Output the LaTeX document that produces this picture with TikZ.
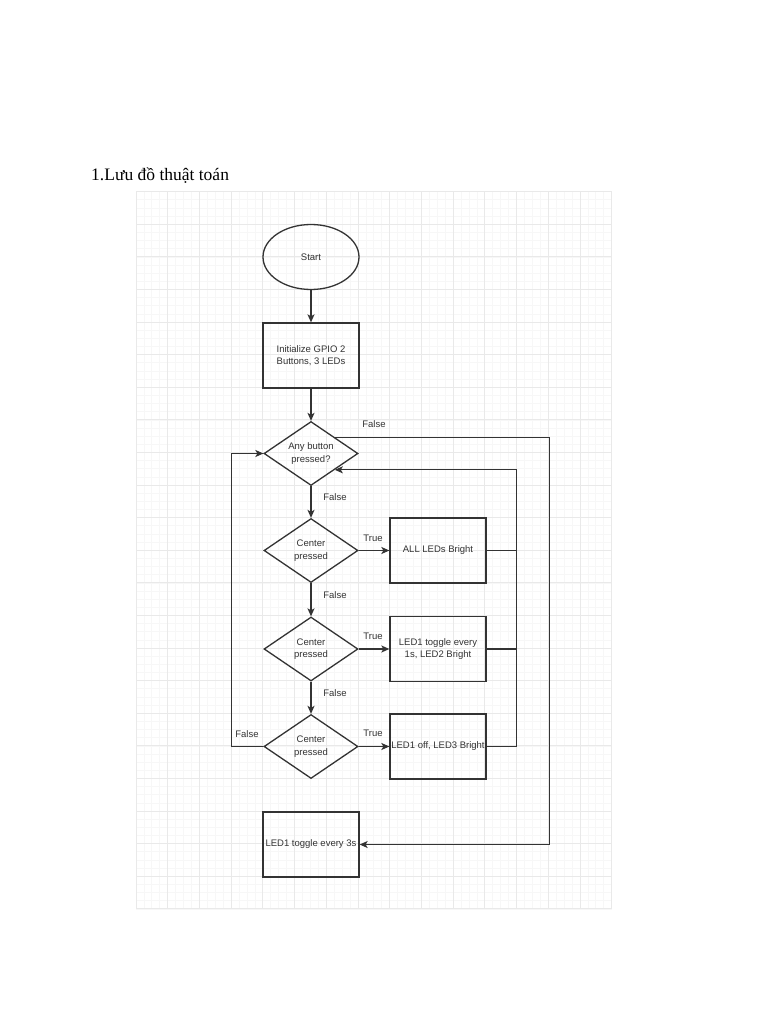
\documentclass[tikz,border=0pt]{standalone}
\usepackage{fontspec}
\setmainfont{Liberation Serif}
\newfontfamily\diafont{Liberation Sans}
\usetikzlibrary{shapes,arrows.meta,positioning,calc}
\definecolor{gridminor}{gray}{0.97}
\definecolor{gridmajor}{gray}{0.915}
\definecolor{linegray}{gray}{0.2}

\begin{document}
\begin{tikzpicture}[x=1pt,y=-1pt,
        every node/.style={font=\diafont\fontsize{9.5}{12.5}\selectfont,text=linegray},
        startstop/.style={ellipse,draw=linegray,line width=1.3pt,minimum width=96pt,minimum height=65pt,inner sep=0pt},
        process/.style={rectangle,draw=linegray,line width=1.3pt,minimum width=96pt,minimum height=65pt,inner sep=0pt,align=center},
        decision/.style={diamond,draw=linegray,line width=1.3pt,minimum width=94pt,minimum height=64pt,inner sep=0pt,aspect=1.5,align=center},
        arr/.style={draw=linegray,line width=1.3pt,-{Stealth[length=8pt,width=7pt,inset=2pt]}},
        link/.style={draw=linegray,line width=1.3pt},
        lbl/.style={inner sep=1pt}]
    \fill[white] (0,0) rectangle (768,1024);
    \useasboundingbox (0,0) rectangle (768,1024);
    % heading
    \node[font=\rmfamily\fontsize{17.5}{21}\selectfont,text=black,anchor=base west,inner sep=0pt] (title) at (91,181) {1.Lưu đồ thuật toán};
    % drawing grid
    \foreach \i in {0,...,60} {
        \draw[gridminor,line width=0.8pt] ({136+\i*7.928},191.7) -- ({136+\i*7.928},908.9);
    }
    \foreach \j in {0,...,88} {
        \draw[gridminor,line width=0.8pt] (136,{191.7+\j*8.15}) -- (611.7,{191.7+\j*8.15});
    }
    \foreach \i in {0,...,15} {
        \draw[gridmajor,line width=0.9pt] ({136+\i*31.713},191.7) -- ({136+\i*31.713},908.9);
    }
    \foreach \j in {0,...,22} {
        \draw[gridmajor,line width=0.9pt] (136,{191.7+\j*32.6}) -- (611.7,{191.7+\j*32.6});
    }
    % main column
    \node[startstop] (start) at (311,257) {Start};
    \node[process] (init) at (311,355.5) {Initialize GPIO 2\\Buttons, 3 LEDs};
    \node[decision] (anybtn) at (311,453.5) {Any button\\pressed?};
    \node[decision] (center1) at (311,550.5) {Center\\pressed};
    \node[decision] (center2) at (311,649) {Center\\pressed};
    \node[decision] (center3) at (311,746.5) {Center\\pressed};
    \node[process] (toggle3s) at (311,844.5) {LED1 toggle every 3s};
    % actions
    \node[process] (allbright) at (438,550.5) {ALL LEDs Bright};
    \node[process] (toggle1s) at (438,649) {LED1 toggle every\\1s, LED2 Bright};
    \node[process] (led3on) at (438,746.5) {LED1 off, LED3 Bright};
    % flow
    \draw[arr] (start) -- (init);
    \draw[arr] (init) -- (anybtn);
    \draw[arr] (anybtn) -- (center1);
    \draw[arr] (center1) -- (center2);
    \draw[arr] (center2) -- (center3);
    \draw[arr] (center1) -- (allbright);
    \draw[arr] (center2) -- (toggle1s);
    \draw[arr] (center3) -- (led3on);
    % loops
    \coordinate (anyne) at ($(anybtn.north)!0.5!(anybtn.east)$);
    \coordinate (anyse) at ($(anybtn.south)!0.5!(anybtn.east)$);
    \draw[arr] (anyne) -- ++(215,0) |- (toggle3s.east);
    \draw[arr] (led3on.east) -- ++(30,0) |- (anyse);
    \draw[link] (allbright.east) -- ++(30,0);
    \draw[link] (toggle1s.east) -- ++(30,0);
    \draw[arr] (center3.west) -- ++(-32,0) |- (anybtn.west);
    % labels
    \node[lbl] (lfalse0) at (374,424) {False};
    \node[lbl] (lfalse1) at (335,497) {False};
    \node[lbl] (lfalse2) at (335,595) {False};
    \node[lbl] (lfalse3) at (335,693) {False};
    \node[lbl] (lfalse4) at (247,734) {False};
    \node[lbl] (ltrue1) at (373,538) {True};
    \node[lbl] (ltrue2) at (373,636) {True};
    \node[lbl] (ltrue3) at (373,733) {True};
\end{tikzpicture}
\end{document}
